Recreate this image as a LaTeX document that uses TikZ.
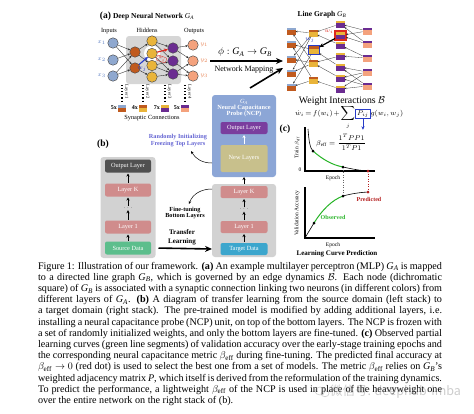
\documentclass[tikz,border=0pt]{standalone}
\usepackage{fontspec}
\setmainfont{Liberation Serif}
\newfontfamily\cjkfont{Noto Sans CJK SC}
\usetikzlibrary{arrows.meta,positioning,calc}
\definecolor{inblue}{RGB}{143,168,207}
\definecolor{hbrown}{RGB}{192,90,30}
\definecolor{hgold}{RGB}{233,180,58}
\definecolor{hpurple}{RGB}{107,44,145}
\definecolor{osalmon}{RGB}{244,162,125}
\definecolor{xblue}{RGB}{90,125,195}
\definecolor{yorange}{RGB}{232,135,90}
\definecolor{boxgray}{RGB}{214,214,214}
\definecolor{stackgray}{RGB}{210,210,210}
\definecolor{outdark}{RGB}{80,80,80}
\definecolor{layerrose}{RGB}{208,140,140}
\definecolor{srcgreen}{RGB}{92,190,140}
\definecolor{ncpblue}{RGB}{140,166,214}
\definecolor{ncppurple}{RGB}{122,62,158}
\definecolor{newkhaki}{RGB}{200,192,140}
\definecolor{tgtblue}{RGB}{60,166,205}
\definecolor{annblue}{RGB}{100,100,210}
\definecolor{curvegreen}{RGB}{40,180,40}
\definecolor{predred}{RGB}{180,30,30}
\definecolor{hlblue}{RGB}{40,60,200}
\definecolor{hlred}{RGB}{220,40,30}
\newcommand\lgn[5]{%
  \node[lgsq,fill=#5] (#1) at (#2,#3) {};
  \fill[#4] (#1.north west) rectangle ([yshift=-2.8pt]#1.north east);}
\newcommand\synbox[5]{%
  \node[synsq,fill=#5] (#1) at (#2,#3) {};
  \fill[#4] (#1.north west) rectangle ([yshift=-3.3pt]#1.north east);}
\begin{document}
\begin{tikzpicture}[x=1pt,y=-1pt,
  every node/.style={inner sep=0pt,outer sep=0pt},
  neuron/.style={circle,draw=black!70,line width=0.45pt,minimum size=10.5pt},
  nnedge/.style={-{Stealth[length=2.3pt,width=2pt]},line width=0.35pt,black!85},
  lgsq/.style={rectangle,minimum width=9pt,minimum height=7pt},
  lgedge/.style={-{Stealth[length=2pt,width=1.8pt]},line width=0.3pt,black!80},
  synsq/.style={rectangle,minimum width=7.5pt,minimum height=7pt},
  lbl/.style={font=\fontsize{6.3}{7}\selectfont},
  tiny/.style={font=\fontsize{5.5}{6}\selectfont},
  layerbox/.style={rectangle,rounded corners=2pt,minimum width=46pt,minimum height=13pt,text=white,font=\fontsize{6.3}{7}\selectfont},
  stackarrow/.style={-{Stealth[length=3pt,width=3pt]},line width=0.9pt,shorten <=1pt,shorten >=1pt},
  bigarrow/.style={-{Stealth[length=7pt,width=6pt]},line width=1.6pt},
  axisline/.style={line width=1.6pt},
  ann/.style={font=\bfseries\fontsize{6.2}{6.9}\selectfont,align=center},
  dotn/.style={circle,fill=black,minimum size=3pt},
  wmark/.style={gray,opacity=0.4},
]
\useasboundingbox (0,0) rectangle (474,413);

% ================= (a) =================
\node[font=\bfseries\fontsize{9.5}{11}\selectfont,anchor=base east] (alab) at (111,18) {(a)};
\node[font=\bfseries\fontsize{7.5}{9}\selectfont,anchor=base west] (atitle) at (113,18) {Deep Neural Network $\mathit{G_A}$};
\node[lbl] (hin) at (109,31) {Inputs};
\node[lbl] (hhid) at (147,30) {Hiddens};
\node[lbl] (hout) at (194,31) {Outputs};
\node[fill=boxgray,rounded corners=3pt,minimum width=55pt,minimum height=48pt] (hbox) at (153.5,60) {};
\node[circle,fill=white,minimum size=16pt] (halo) at (152,53.5) {};

\node[neuron,fill=inblue] (x1) at (113,43) {};
\node[neuron,fill=inblue] (x2) at (113,60) {};
\node[neuron,fill=inblue] (x3) at (113,76) {};
\node[neuron,fill=hbrown] (h1) at (135,52) {};
\node[neuron,fill=hbrown] (h2) at (135,68) {};
\node[neuron,fill=hgold] (g1) at (152,41) {};
\node[neuron,fill=hgold] (g2) at (152,53.5) {};
\node[neuron,fill=hgold] (g3) at (152,65.5) {};
\node[neuron,fill=hgold] (g4) at (152,77) {};
\node[neuron,fill=hpurple] (p1) at (173,48) {};
\node[neuron,fill=hpurple] (p2) at (173,61) {};
\node[neuron,fill=hpurple] (p3) at (173,74) {};
\node[neuron,fill=osalmon] (o1) at (193,45) {};
\node[neuron,fill=osalmon] (o2) at (193,61) {};
\node[neuron,fill=osalmon] (o3) at (193,76) {};

\foreach \i in {1,2,3}{
  \node[text=xblue,font=\fontsize{6.5}{7}\selectfont,anchor=east] (xl\i) at ([xshift=-2pt]x\i.west) {$x_\i$};
  \node[text=yorange,font=\fontsize{6.5}{7}\selectfont,anchor=west] (yl\i) at ([xshift=2pt]o\i.east) {$y_\i$};
}
\foreach \s/\t in {x1/h1,x1/h2,x2/h1,x3/h1,x3/h2,h1/g1,h1/g3,h2/g4,g1/p1,g1/p2,g2/p3,g3/p2,g3/p3,g4/p3,p1/o1,p1/o2,p2/o3,p3/o2,p3/o3}
  \draw[nnedge] (\s) -- (\t);
\draw[-{Stealth[length=4pt,width=3.6pt]},line width=1.1pt,hlblue] (h2) -- (g2);
\draw[-{Stealth[length=4pt,width=3.6pt]},line width=1.1pt,hlred] (g2) -- (p1);
\node[text=hlblue,font=\fontsize{6}{7}\selectfont] (wja) at (142,69) {$w_j$};
\node[text=hlred,font=\fontsize{5.5}{6}\selectfont,draw=hlred,line width=0.3pt,rounded corners=1pt,inner sep=0.8pt,rotate=-20] (wia) at (161.5,59) {$w_i$};

\foreach \xx/\n in {122/1,143/2,165/3,185/4}{
  \coordinate (lt\n) at (\xx,85);
  \coordinate (lb\n) at (\xx,101);
  \draw[dotted,line width=1.1pt] (lt\n) -- (lb\n);
  \node[rotate=-90,font=\fontsize{4.6}{5}\selectfont] (lay\n) at (\xx+4.5,92) {Layer \n};
}
\synbox{s1}{122}{108}{inblue}{hbrown}
\synbox{s2}{143}{108}{hbrown}{hgold}
\synbox{s3}{165}{108}{hgold}{hpurple}
\synbox{s4}{185}{108}{hpurple}{osalmon}
\foreach \n/\t in {1/5x,2/4x,3/7x,4/5x}
  \node[font=\bfseries\fontsize{6}{7}\selectfont,anchor=east] (sl\n) at ([xshift=-1.5pt]s\n.west) {\t};
\node[font=\fontsize{6.3}{7}\selectfont] (syncap) at (152,118.5) {Synaptic Connections};

% mapping
\coordinate (ms) at (210,61);
\coordinate (me) at (283,61);
\draw[bigarrow] (ms) -- (me);
\node[font=\fontsize{10}{12}\selectfont] (phi) at (245,52) {$\phi:\mathit{G_A}\rightarrow \mathit{G_B}$};
\node[font=\fontsize{8}{9}\selectfont] (nmap) at (244,69.5) {Network Mapping};

% line graph
\node[font=\bfseries\fontsize{7.5}{9}\selectfont] (lgt) at (322,15) {Line Graph $\mathit{G_B}$};
\lgn{a1}{291}{31}{inblue}{hbrown}
\lgn{a2}{291}{44}{inblue}{hbrown}
\lgn{a3}{291}{59}{inblue}{hbrown}
\lgn{a4}{291}{73}{inblue}{hbrown}
\lgn{a5}{291}{87}{inblue}{hbrown}
\lgn{b1}{313}{33}{hbrown}{hgold}
\lgn{b3}{313}{63}{hbrown}{hgold}
\lgn{b4}{313}{80}{hbrown}{hgold}
\node[lgsq,minimum width=10.5pt,minimum height=9pt,fill=hgold] (b2) at (314,50) {};
\fill[hbrown] (b2.north west) rectangle ([yshift=-3.5pt]b2.north east);
\draw[hlblue,line width=1.1pt] (b2.north west) rectangle (b2.south east);
\lgn{c1}{340}{24}{hgold}{hpurple}
\lgn{c3}{340}{45}{hgold}{hpurple}
\lgn{c4}{340}{56}{hgold}{hpurple}
\lgn{c5}{340}{67}{hgold}{hpurple}
\lgn{c6}{340}{78}{hgold}{hpurple}
\lgn{c7}{340}{89}{hgold}{hpurple}
\node[lgsq,minimum width=11pt,minimum height=9pt,fill=hpurple] (c2) at (340.5,35.5) {};
\fill[hgold] (c2.north west) rectangle ([yshift=-3.5pt]c2.north east);
\draw[hlred,line width=1.4pt] (c2.north west) rectangle (c2.south east);
\lgn{d1}{367}{31}{hpurple}{osalmon}
\lgn{d2}{367}{44}{hpurple}{osalmon}
\lgn{d3}{367}{58}{hpurple}{osalmon}
\lgn{d4}{367}{72}{hpurple}{osalmon}
\lgn{d5}{367}{86}{hpurple}{osalmon}
\foreach \s/\t in {b1/a1,b3/a1,b1/a3,b3/a3,b1/a4,b3/a4,b2/a2,b4/a2,b2/a5,b4/a5,
  c1/b1,c3/b1,c5/b2,c4/b3,c6/b3,c7/b4,
  d1/c1,d2/c1,d1/c2,d2/c2,d3/c3,d3/c4,d4/c5,d5/c5,d4/c6,d5/c6,d4/c7,d5/c7}
  \draw[lgedge] (\s) -- (\t);
\draw[-{Stealth[length=4.5pt,width=4pt]},line width=1.2pt] (c2) -- (b2);
\node[text=hlred,font=\fontsize{6}{7}\selectfont] (wib) at (329,32) {$w_i$};
\node[text=hlblue,font=\fontsize{6}{7}\selectfont] (wjb) at (310,40.5) {$w_j$};

% weight interactions
\node[font=\fontsize{9.8}{11}\selectfont] (wint) at (342,101.5) {Weight Interactions $\mathcal{B}$};
\node[font=\fontsize{7}{8}\selectfont,anchor=base west] (fl) at (295,115.5) {$\medmuskip=2mu\thickmuskip=3mu\dot{w}_i = f(w_i) + \displaystyle\sum_{j}$};
\node[draw=hlblue,line width=0.9pt,inner sep=1.3pt,font=\fontsize{7}{8}\selectfont,anchor=base west] (pij) at ([xshift=0.8pt]fl.base east) {$P_{ij}$};
\node[font=\fontsize{7}{8}\selectfont,anchor=base west] (fr) at ([xshift=0.5pt]pij.base east) {$g(w_i, w_j)$};
\coordinate (pend) at ([yshift=-11pt]pij.south);
\draw[-{Stealth[length=3.5pt,width=3.2pt]},line width=0.9pt,hlblue] (pij.south) -- (pend);

% NCP arrow
\coordinate (ncpend) at (283,68);

% ================= (c) =================
\node[font=\bfseries\fontsize{9.5}{11}\selectfont] (clab) at (285,129) {(c)};
\coordinate (ttop) at (305,127);
\coordinate (t0) at (305,171);
\coordinate (tr) at (375,171);
\draw[axisline] (ttop) -- (t0) -- (tr);
\coordinate (tc0) at (308,129);
\coordinate (tc1) at (313,151);
\coordinate (tc2) at (343,167);
\coordinate (tc3) at (368,171);
\draw[line width=0.6pt] (tc0) .. controls (309,142) and (310,148) .. (tc1);
\draw[curvegreen,line width=1pt] (tc1) .. controls (322,159) and (332,165) .. (tc2);
\draw[line width=0.6pt] (tc2) .. controls (352,169) and (360,170.5) .. (tc3);
\node[rotate=90,tiny] (tyl) at (297,148) {Train $\beta_{\mathrm{eff}}$};
\node[tiny] (tz) at (300,170) {0};
\node[tiny] (tep) at (333,178) {Epoch};
\node[font=\fontsize{7}{8}\selectfont] (beq) at (341,142) {$\beta_{\mathrm{eff}}=\displaystyle\frac{1^T PP1}{1^T P1}$};

\coordinate (btop) at (305,187);
\coordinate (b0) at (305,238);
\coordinate (br) at (375,238);
\draw[axisline] (btop) -- (b0) -- (br);
\coordinate (bc0) at (305.5,237);
\coordinate (bc1) at (314,223);
\coordinate (bc2) at (343,196);
\coordinate (bc3) at (368,192);
\draw[line width=0.6pt] (bc0) -- (bc1);
\draw[curvegreen,line width=1pt] (bc1) .. controls (322,210) and (332,200) .. (bc2);
\draw[line width=0.6pt] (bc2) .. controls (352,193.5) and (360,192.5) .. (bc3);
\draw[dotted,line width=0.5pt,black!60] (tc2) -- (bc2);
\draw[dotted,line width=0.5pt,predred] (tc3) -- (bc3);
\node[dotn] (td1) at (tc1) {};
\node[dotn] (td2) at (tc2) {};
\node[dotn,fill=predred] (td3) at (tc3) {};
\node[dotn] (bd1) at (bc1) {};
\node[dotn] (bd2) at (bc2) {};
\node[dotn,fill=predred] (bd3) at (bc3) {};
\node[rotate=90,tiny] (byl) at (297,213) {Validation Accuracy};
\node[tiny] (bep) at (333,245) {Epoch};
\node[font=\bfseries\fontsize{6}{7}\selectfont,text=curvegreen] (obs) at (333,217) {Observed};
\node[font=\bfseries\fontsize{6}{7}\selectfont,text=predred] (pred) at (369,199) {Predicted};
\node[font=\bfseries\fontsize{7}{8}\selectfont] (lcp) at (337,254) {Learning Curve Prediction};

% ================= (b) =================
\node[font=\bfseries\fontsize{9.5}{11}\selectfont] (blab) at (103,144) {(b)};
\node[fill=stackgray,rounded corners=3pt,minimum width=55pt,minimum height=101pt] (lstack) at (128,207.5) {};
\node[layerbox,fill=outdark] (lout) at (128,166) {Output Layer};
\node[layerbox,fill=layerrose] (lk) at (128,190) {Layer K};
\node[font=\fontsize{5}{5}\selectfont] (ldots) at (128,208) {$\cdots$};
\node[layerbox,fill=layerrose] (l1) at (128,227) {Layer 1};
\node[layerbox,fill=srcgreen] (lsrc) at (128,248) {Source Data};
\draw[stackarrow] (lk) -- (lout);
\draw[stackarrow] (ldots) -- (lk);
\draw[stackarrow] (l1) -- (ldots);
\draw[stackarrow] (lsrc) -- (l1);

\node[fill=ncpblue,rounded corners=3pt,minimum width=64pt,minimum height=82pt] (ncp) at (244,136) {};
\node[fill=stackgray,rounded corners=3pt,minimum width=64pt,minimum height=73pt] (rstack) at (244,220.5) {};
\node[font=\bfseries\fontsize{6.3}{6.4}\selectfont,text=white,align=center] (ncpt) at (244,108) {$\mathit{G_A}$\\Neural Capacitance\\Probe (NCP)};
\node[layerbox,fill=ncppurple,minimum width=47pt,minimum height=12pt] (nout) at (244,128) {Output Layer};
\node[layerbox,fill=newkhaki,minimum width=47pt,minimum height=27pt] (nnew) at (244,158.5) {New Layers};
\node[layerbox,fill=layerrose,minimum width=47pt,minimum height=12pt] (rk) at (244,192) {Layer K};
\node[font=\fontsize{5}{5}\selectfont] (rdots) at (244,209.5) {$\cdots$};
\node[layerbox,fill=layerrose,minimum width=47pt,minimum height=12pt] (r1) at (244,227) {Layer 1};
\node[layerbox,fill=tgtblue,minimum width=47pt,minimum height=12pt] (rtgt) at (244,249) {Target Data};
\draw[stackarrow,white] (nnew) -- (nout);
\draw[stackarrow,shorten <=0pt,shorten >=0pt] (rstack) -- (ncp);
\draw[stackarrow] (rdots) -- (rk);
\draw[stackarrow] (r1) -- (rdots);
\draw[stackarrow] (rtgt) -- (r1);

\draw[bigarrow,shorten <=3pt] (lstack.east |- lsrc) -- (rstack.west |- rtgt);
\node[font=\bfseries\fontsize{7}{9}\selectfont,align=center] (trl) at (182,237.5) {Transfer\\Learning};
\node[ann] (ftl) at (185,213) {Fine-tuning\\Bottom Layers};
\node[ann,text=annblue] (ril) at (178,140.5) {Randomly Initializing\\Freezing Top Layers};
\coordinate (ftend) at (189,204);
\coordinate (riend) at (191,151);
\draw[-{Stealth[length=3pt,width=2.6pt]},line width=0.5pt] ([yshift=-5pt]rstack.north west) to[out=180,in=70] (ftend);
\draw[-{Stealth[length=3pt,width=2.6pt]},line width=0.5pt] ([yshift=-27pt]ncp.west) to[out=180,in=-60] (riend);

\draw[bigarrow] ([shift={(6pt,7pt)}]ncp.north) -- (ncpend);

% ================= caption =================
\node[anchor=north west,text width=404pt,align=justify,font=\fontsize{10.16}{11.2}\selectfont] (caption) at (38,262) {Figure 1: Illustration of our framework. \textbf{(a)} An example multilayer perceptron (MLP) $\mathit{G_A}$ is mapped\linebreak
to a directed line graph $\mathit{G_B}$, which is governed by an edge dynamics $\mathcal{B}$. Each node (dichromatic\linebreak
square) of $\mathit{G_B}$ is associated with a synaptic connection linking two neurons (in different colors) from\linebreak
different layers of $\mathit{G_A}$. \textbf{(b)} A diagram of transfer learning from the source domain (left stack) to\linebreak
a target domain (right stack). The pre-trained model is modified by adding additional layers, i.e.\linebreak
installing a neural capacitance probe (NCP) unit, on top of the bottom layers. The NCP is frozen with\linebreak
a set of randomly initialized weights, and only the bottom layers are fine-tuned. \textbf{(c)} Observed partial\linebreak
learning curves (green line segments) of validation accuracy over the early-stage training epochs and\linebreak
the corresponding neural capacitance metric $\beta_{\mathrm{eff}}$ during fine-tuning. The predicted final accuracy at\linebreak
$\beta_{\mathrm{eff}}\rightarrow 0$ (red dot) is used to select the best one from a set of models. The metric $\beta_{\mathrm{eff}}$ relies on $\mathit{G_B}$'s\linebreak
weighted adjacency matrix $\mathit{P}$, which itself is derived from the reformulation of the training dynamics.\linebreak
To predict the performance, a lightweight $\beta_{\mathrm{eff}}$ of the NCP is used in place of the heavyweight one\linebreak
over the entire network on the right stack of (b).};

% watermark
\coordinate (wmic) at (320,391);
\draw[wmark,line width=0.6pt] (wmic) ellipse [x radius=5pt,y radius=4pt];
\draw[wmark,line width=0.6pt] ([shift={(5pt,-2.5pt)}]wmic) ellipse [x radius=4pt,y radius=3.2pt];
\node[font=\cjkfont\fontsize{12.5}{14}\selectfont,text=gray,opacity=0.4,anchor=west] (wm) at (330,392) {微信号: deephub-imba};
\end{tikzpicture}
\end{document}
